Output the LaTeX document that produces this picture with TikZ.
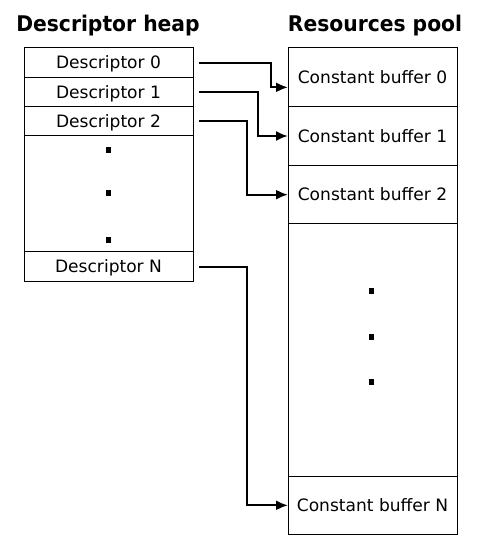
\documentclass[tikz,border=0pt]{standalone}
\usepackage{fontspec}
\setmainfont{DejaVu Sans}
\newfontfamily\titlefont[FakeStretch=0.94]{DejaVu Sans}
\usetikzlibrary{
  positioning,
  arrows.meta}

\begin{document}
\begin{tikzpicture}[
      x=0.75pt, y=-0.75pt,
      cell/.style={
        rectangle,
        draw,
        line width=0.75pt,
        outer sep=0pt,
        minimum width=126.75pt,
        text height=9.3pt,
        text depth=0pt,
        font=\fontsize{12.8pt}{15pt}\selectfont,
      },
      slot/.style={
        minimum height=22pt
      },
      slot-gap/.style={
        minimum height=87pt
      },
      buffer/.style={
        minimum height=44pt
      },
      buffer-gap/.style={
        minimum height=189pt
      },
      title/.style={
        anchor=base,
        inner sep=0pt,
        font=\titlefont\bfseries\fontsize{16.2pt}{19pt}\selectfont,
      },
      link/.style={
        line width=1.5pt,
        -{Latex[length=9pt,width=7.5pt]},
      },
    ]
    \useasboundingbox (0,0) rectangle (481,548);
    \coordinate (heap) at (108.5,48);
    \coordinate (pool) at (372.5,48);
    \node[title] (heap-title) at (108,31.5) {Descriptor heap};
    \node[title] (pool-title) at (375,31.5) {Resources pool};
    % descriptor heap
    \node[cell, slot, anchor=north] (desc0-node) at (heap) {Descriptor 0};
    \node[cell, slot, below=0pt of desc0-node] (desc1-node) {Descriptor 1};
    \node[cell, slot, below=0pt of desc1-node] (desc2-node) {Descriptor 2};
    \node[cell, slot-gap, below=0pt of desc2-node] (desc-gap-node) {};
    \node[cell, slot, below=0pt of desc-gap-node] (descN-node) {Descriptor N};
    % resources pool
    \node[cell, buffer, anchor=north] (buf0-node) at (pool) {Constant buffer 0};
    \node[cell, buffer, below=0pt of buf0-node] (buf1-node) {Constant buffer 1};
    \node[cell, buffer, below=0pt of buf1-node] (buf2-node) {Constant buffer 2};
    \node[cell, buffer-gap, below=0pt of buf2-node] (buf-gap-node) {};
    \node[cell, buffer, below=0pt of buf-gap-node] (bufN-node) {Constant buffer N};
    \foreach \y in {149.7,193.3,239.7}
      \fill (106,\y-3) rectangle ++(5,6);
    \foreach \y in {290.7,336.7,381.7}
      \fill (368.8,\y-3) rectangle ++(5,6);
    \draw[link] ([xshift=4.5pt]desc0-node.east) -- ++(72,0) |- ([yshift=-7.5pt]buf0-node.west);
    \draw[link] ([xshift=4.5pt]desc1-node.east) -- ++(59,0) |- (buf1-node.west);
    \draw[link] ([xshift=4.5pt]desc2-node.east) -- ++(48,0) |- (buf2-node.west);
    \draw[link] ([xshift=4.5pt]descN-node.east) -- ++(48,0) |- (bufN-node.west);
  \end{tikzpicture}
\end{document}
